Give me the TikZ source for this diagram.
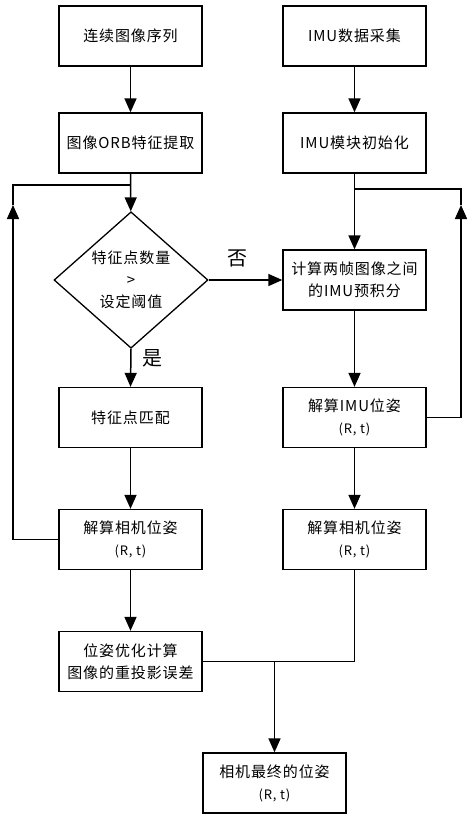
\documentclass[tikz,border=0pt]{standalone}
\usepackage{fontspec}
\setmainfont[LetterSpace=6]{Noto Sans CJK SC}
\usetikzlibrary{arrows.meta,shapes.geometric}
\begin{document}
\begin{tikzpicture}[x=1pt,y=-1pt,
  box/.style={draw, line width=1.3pt, minimum width=143pt, minimum height=60pt, inner sep=0pt, align=center, font=\fontsize{15}{22}\selectfont},
  dia/.style={draw, diamond, line width=1.3pt, minimum width=154pt, minimum height=122pt, inner sep=0pt, align=center, font=\fontsize{15}{22}\selectfont},
  ln/.style={line width=1.5pt},
  arr/.style={ln, -{Triangle[length=14pt,width=12pt]}},
  lbl/.style={font=\fontsize{20}{24}\selectfont, inner sep=0pt},
  sm/.style={font=\fontsize{13}{22}\selectfont}
]
\useasboundingbox (0,0) rectangle (474,822);
\fill[white] (0,0) rectangle (474,822);

\node[box] (a1) at (130.5,36) {连续图像序列};
\node[box] (a2) at (130.5,143) {图像ORB特征提取};
\node[dia] (d) at (131,280) {特征点数量\\>\\设定阈值};
\node[box] (a3) at (130.5,417.5) {特征点匹配};
\node[box] (a4) at (130.5,539.5) {解算相机位姿\\{\fontsize{13}{22}\selectfont (R, t)}};
\node[box] (a5) at (130.5,661.5) {位姿优化计算\\图像的重投影误差};
\node[box] (b1) at (354.5,36) {IMU数据采集};
\node[box] (b2) at (354.5,143) {IMU模块初始化};
\node[box] (b3) at (354.5,280) {计算两帧图像之间\\的IMU预积分};
\node[box] (b4) at (354.5,417.5) {解算IMU位姿\\{\fontsize{13}{22}\selectfont (R, t)}};
\node[box] (b5) at (354.5,539.5) {解算相机位姿\\{\fontsize{13}{22}\selectfont (R, t)}};
\node[box] (f) at (274.5,783) {相机最终的位姿\\{\fontsize{13}{22}\selectfont (R, t)}};

\coordinate (jl) at (130.5,185);
\coordinate (lt) at (13,185);
\coordinate (lb) at (13,539.5);
\coordinate (la) at (13,205);
\coordinate (jr) at (354.5,189);
\coordinate (rt) at (461,189);
\coordinate (rb) at (461,417.5);
\coordinate (ra) at (461,205);
\coordinate (m) at (274.5,661.5);

\draw[arr] (a1) -- (a2);
\draw[arr] (a2) -- (d);
\draw[ln] (a4.west) -- (lb);
\draw[arr] (lb) -- (la);
\draw[ln] (la) -- (lt) -- (jl);

\draw[arr] (b1) -- (b2);
\draw[arr] (b2) -- (b3);
\draw[ln] (b4.east) -- (rb);
\draw[arr] (rb) -- (ra);
\draw[ln] (ra) -- (rt) -- (jr);

\draw[arr] (d.east) -- (b3.west);
\node[lbl] (no) at (237,258) {否};
\draw[arr] (d.south) -- (a3.north);
\node[lbl] (yes) at (152,358) {是};

\draw[arr] (a3) -- (a4);
\draw[arr] (a4) -- (a5);
\draw[arr] (b3) -- (b4);
\draw[arr] (b4) -- (b5);
\draw[ln] (b5.south) |- (m);
\draw[ln] (a5.east) -- (m);
\draw[arr] (m) -- (f.north);
\end{tikzpicture}
\end{document}
